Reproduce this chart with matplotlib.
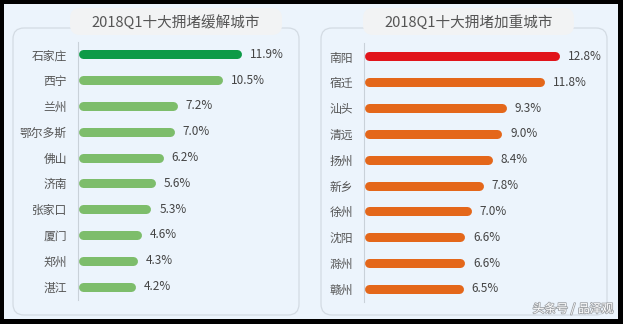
import matplotlib
matplotlib.use("Agg")
import matplotlib.pyplot as plt
import matplotlib.patheffects as pe
from matplotlib.patches import FancyBboxPatch, Rectangle

plt.rcParams["font.family"] = ["Noto Sans CJK SC", "DejaVu Sans"]

W, H = 623, 324  # figure size in pixels

# data
eased_cities = ["石家庄", "西宁", "兰州", "鄂尔多斯", "佛山", "济南", "张家口", "厦门", "郑州", "湛江"]
eased_values = [11.9, 10.5, 7.2, 7.0, 6.2, 5.6, 5.3, 4.6, 4.3, 4.2]
worse_cities = ["南阳", "宿迁", "汕头", "清远", "扬州", "新乡", "徐州", "沈阳", "滁州", "赣州"]
worse_values = [12.8, 11.8, 9.3, 9.0, 8.4, 7.8, 7.0, 6.6, 6.6, 6.5]

BG = "#ecf4fc"
TEXT = "#555555"
BAR_PX = 9  # bar thickness in pixels


def px_rect(x0, y0, x1, y1):
    # pixel box with top-left origin -> figure fraction rect
    return [x0 / W, 1 - y1 / H, (x1 - x0) / W, (y1 - y0) / H]


def draw_bars(ax, cities, values, colors, xmax, label_side):
    ax.set_facecolor("none")
    ax.set_xlim(0, xmax)
    n = len(cities)
    rows = list(range(n))
    # radius of round cap in data units, so the bar spans exactly 0..value
    ax_w_px = ax.get_position().width * W
    r = (BAR_PX / 2) / (ax_w_px / xmax)
    ax.hlines(rows, [r] * n, [v - r for v in values], colors=colors,
              linewidth=BAR_PX * 0.72, capstyle="round")
    for i, v in enumerate(values):
        ax.annotate(f"{v:.1f}%", (v, i), xytext=(6, 0), textcoords="offset points",
                    va="center", ha="left", fontsize=8.5, color="#444444")
    ax.set_yticks(rows)
    ax.set_yticklabels(cities)
    ax.tick_params(axis="y", length=0, labelsize=8.5, labelcolor=TEXT)
    ax.set_xticks([])
    for side in ("top", "right", "bottom"):
        ax.spines[side].set_visible(False)
    ax.spines["left"].set_color("#c9d1d9")
    ax.spines["left"].set_linewidth(0.8)
    if label_side == "right":
        ax.tick_params(axis="y", pad=8)
    else:
        ax.tick_params(axis="y", pad=25)
        for t in ax.get_yticklabels():
            t.set_ha("left")


def main():
    fig = plt.figure(figsize=(W / 100, H / 100), dpi=100)
    fig.patch.set_facecolor("black")

    bg = fig.add_axes([0, 0, 1, 1])
    bg.set_xlim(0, W)
    bg.set_ylim(H, 0)
    bg.axis("off")
    bg.add_patch(Rectangle((4, 4), 614, 315, facecolor=BG, edgecolor="none"))

    # panels and title tabs
    for x0, x1, tx0, tx1, title in [
        (13, 299, 70, 282, "2018Q1十大拥堵缓解城市"),
        (321, 607, 363, 574, "2018Q1十大拥堵加重城市"),
    ]:
        bg.add_patch(FancyBboxPatch((x0, 28), x1 - x0, 287,
                                    boxstyle="round,pad=0,rounding_size=11",
                                    facecolor=BG, edgecolor="#d3dbe3", linewidth=0.9))
        bg.add_patch(FancyBboxPatch((tx0, 8), tx1 - tx0, 27,
                                    boxstyle="round,pad=0,rounding_size=10",
                                    facecolor="#f2f3f4", edgecolor="none"))
        bg.text((tx0 + tx1) / 2, 22, title, ha="center", va="center",
                fontsize=10.5, color=TEXT)

    wm = bg.text(613, 309, "头条号 / 品泽观", ha="right", va="center", fontsize=8.5,
                 color="white", style="italic")
    wm.set_path_effects([pe.withStroke(linewidth=1.2, foreground="#a0a4a8")])

    # left chart: x zero at px 78, 13.77 px per unit; rows at 54.3 + 25.8*i
    ax1 = fig.add_axes(px_rect(78, 42, 298, 300))
    ax1.set_ylim(9.52, -0.48)
    draw_bars(ax1, eased_cities, eased_values,
              ["#0d9a47"] + ["#7dbd6b"] * 9, 220 / 13.77, "right")

    # right chart: x zero at px 364, 15.3 px per unit; rows at 56.5 + 25.8*i
    ax2 = fig.add_axes(px_rect(364, 43, 600, 302))
    ax2.set_ylim(9.51, -0.52)
    draw_bars(ax2, worse_cities, worse_values,
              ["#e1141b"] + ["#e4671a"] * 9, 236 / 15.3, "left")

    fig.savefig("out.png", dpi=100, facecolor=fig.get_facecolor())


if __name__ == "__main__":
    main()
